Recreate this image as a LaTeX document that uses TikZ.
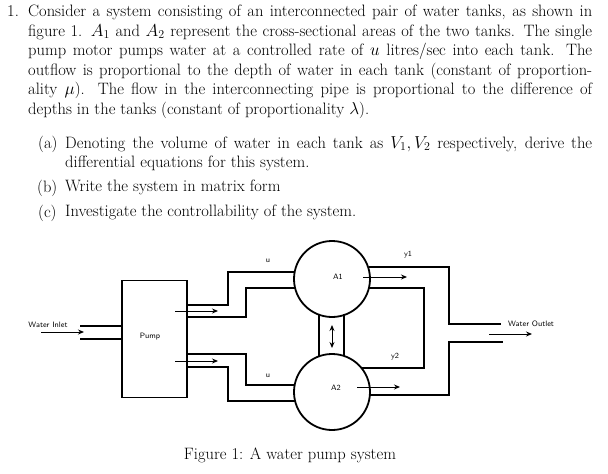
\documentclass[tikz,border=0pt]{standalone}
\usepackage{amsmath}
\usetikzlibrary{arrows.meta}
\begin{document}
\begin{tikzpicture}[x=1pt,y=-1pt,
  pipe/.style={line width=1.8pt},
  flow/.style={line width=0.9pt,-{Stealth[length=6pt,width=5pt]}},
  lbl/.style={font=\sffamily\fontsize{7.8}{8}\selectfont,inner sep=0pt},
  para/.style={inner sep=0pt,anchor=north west,align=justify,font=\fontsize{16.5}{19.5}\selectfont}]
\useasboundingbox (0,0) rectangle (608,474);
\node[para] (n1) at (7,5) {1.};
\node[para,text width=564pt] (p1) at (28,5) {Consider a system consisting of an interconnected pair of water tanks, as shown in\linebreak
figure 1. $A_1$ and $A_2$ represent the cross-sectional areas of the two tanks. The single\linebreak
pump motor pumps water at a controlled rate of $u$ litres/sec into each tank. The\linebreak
outflow is proportional to the depth of water in each tank (constant of proportion-\linebreak
ality $\mu$). The flow in the interconnecting pipe is proportional to the difference of\linebreak
depths in the tanks (constant of proportionality $\lambda$).};
\node[para] (la) at (38,136) {(a)};
\node[para,text width=527pt] (pa) at (65,136) {Denoting the volume of water in each tank as $V_1,V_2$ respectively, derive the\linebreak differential equations for this system.};
\node[para] (lb) at (37,180) {(b)};
\node[para] (pb) at (65,180) {Write the system in matrix form};
\node[para] (lc) at (38,205) {(c)};
\node[para] (pc) at (65,205) {Investigate the controllability of the system.};
% diagram
\node[draw,line width=1.8pt,minimum width=65pt,minimum height=117pt,inner sep=0pt] (pump) at (154.5,339) {};
\node[lbl] (pl) at (150,337) {Pump};
\node[draw,circle,line width=1.8pt,minimum size=76pt,inner sep=0pt] (t1) at (332,279) {};
\node[draw,circle,line width=1.8pt,minimum size=76pt,inner sep=0pt] (t2) at (332,392) {};
\node[lbl] (a1) at (338,277) {A1};
\node[lbl] (a2) at (336,388) {A2};
\node[lbl] (u1) at (268,261) {u};
\node[lbl] (u2) at (268,376) {u};
\node[lbl] (y1) at (408,255) {y1};
\node[lbl] (y2) at (395,357) {y2};
\node[lbl] (wi) at (48,325) {Water Inlet};
\node[lbl] (wo) at (531,324) {Water Outlet};
\coordinate (e1) at (80,326); \coordinate (e2) at (80,339);
\draw[pipe] (e1) -- (pump.west |- e1);
\draw[pipe] (e2) -- (pump.west |- e2);
\draw[pipe] (187,305) -- (228,305) -- (228,272) -- (294,272);
\draw[pipe] (187,317) -- (246,317) -- (246,288) -- (296,288);
\draw[pipe] (187,354) -- (246,354) -- (246,385) -- (295,385);
\draw[pipe] (187,367) -- (228,367) -- (228,401) -- (296,401);
\draw[pipe] (319,314) -- (319,356);
\draw[pipe] (344,314) -- (344,356);
\draw[pipe] (369,267) -- (449,267) -- (449,324) -- (501,324);
\draw[pipe] (368,288) -- (424,288) -- (424,368) -- (361,368);
\draw[pipe] (369,395) -- (449,395) -- (449,342) -- (503,342);
\coordinate (f1a) at (41,332); \coordinate (f1b) at (84,332);
\draw[flow] (f1a) -- (f1b);
\draw[flow] (175,311) -- (218,311);
\draw[flow] (175,361) -- (218,361);
\draw[flow] (363,277) -- (407,277);
\draw[flow] (357,387) -- (400,387);
\draw[flow] (489,334) -- (532,334);
\draw[line width=0.9pt,{Stealth[length=6pt,width=5pt]}-{Stealth[length=6pt,width=5pt]}] (332,325) -- (332,348);
\node[inner sep=0pt,font=\fontsize{16.5}{19.5}\selectfont] (cap) at (290,455) {Figure 1: A water pump system};
\end{tikzpicture}
\end{document}
